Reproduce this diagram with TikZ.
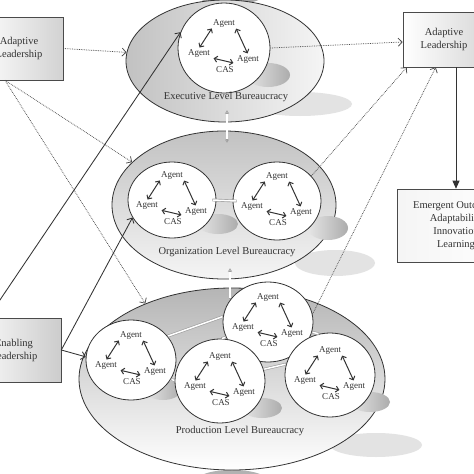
\documentclass[tikz,border=0pt]{standalone}
\usepackage{fontspec}
\setmainfont{Liberation Serif}
\usetikzlibrary{shapes.geometric,arrows.meta}
\definecolor{ink}{HTML}{333333}
\definecolor{lineg}{HTML}{4A4A4A}
\tikzset{
  outerell/.style={ellipse, draw=ink, line width=0.8pt, inner sep=0pt},
  innerell/.style={ellipse, draw=ink, line width=0.8pt, fill=white, inner sep=0pt},
  shadowell/.style={ellipse, inner sep=0pt, draw=none},
  lbox/.style={rectangle, draw=lineg, line width=0.6pt, align=center, text=ink, font=\fontsize{10.5}{13}\selectfont},
  agenttxt/.style={font=\fontsize{9}{10}\selectfont, inner sep=0.5pt, text=ink},
  levellab/.style={font=\fontsize{10.5}{12}\selectfont, text=ink, inner sep=0pt},
  agentarrow/.style={draw=ink, line width=1pt, {Straight Barb[length=3pt,width=6pt]}-{Straight Barb[length=3pt,width=6pt]}, shorten <=1pt, shorten >=1pt},
  dotconn/.style={draw=lineg, line width=0.75pt, densely dotted, -{Straight Barb[length=4pt,width=8pt]}},
  solconn/.style={draw=ink, line width=0.85pt, -{Straight Barb[length=4pt,width=8pt]}},
  pipe/.style={draw=gray!75, line width=2.8pt, postaction={draw=white, line width=1.5pt, shorten <=0.6pt, shorten >=0.6pt}},
  pipetip/.style={draw=gray!75, line width=0.6pt, -{Latex[open,length=3.5pt,width=4.5pt]}},
  cas/.pic={
    \node[agenttxt] (-a1) at (0,-25) {Agent};
    \node[agenttxt] (-a2) at (-25,5) {Agent};
    \node[agenttxt] (-a3) at (24,11) {Agent};
    \node[agenttxt] (-cas) at (1,22) {CAS};
    \draw[agentarrow] (-a2.north) -- (-a1.south west);
    \draw[agentarrow] (-a1.south east) -- (-a3.north);
    \draw[agentarrow, shorten <=3pt, shorten >=3pt] (-a2.south east) -- (-a3.south west);
  }
}
\begin{document}
\begin{tikzpicture}[x=1pt,y=-1pt]
\useasboundingbox (0,0) rectangle (474,474);
\clip (0,0) rectangle (474,474);
\fill[white] (0,0) rectangle (474,474);
% outer shadows
\node[shadowell, fill=gray!22, minimum width=104pt, minimum height=24pt] (exsh) at (300,104) {};
\node[shadowell, fill=gray!22, minimum width=80pt, minimum height=26pt] (orsh) at (335,263) {};
\node[shadowell, fill=gray!22, minimum width=92pt, minimum height=24pt] (prsh) at (376,445) {};
\node[shadowell, fill=gray!70, minimum width=60pt, minimum height=12pt] (topsh) at (230,-2) {};
\node[shadowell, fill=gray!60, minimum width=64pt, minimum height=16pt] (botsh) at (232,478) {};
% outer ellipses
\node[outerell, top color=gray!58, bottom color=white, minimum width=306pt, minimum height=182pt] (prod) at (232,379) {};
\node[outerell, top color=gray!48, bottom color=gray!8, minimum width=224pt, minimum height=148pt] (org) at (224,205) {};
\node[outerell, left color=gray!48, right color=gray!8, minimum width=198pt, minimum height=122pt] (exec) at (225,61) {};
% inner circle shadows
\node[shadowell, left color=gray!20, right color=gray!65, minimum width=44pt, minimum height=24pt] (exish) at (268,75) {};
\node[shadowell, left color=gray!20, right color=gray!65, minimum width=40pt, minimum height=20pt] (orlsh) at (218,224) {};
\node[shadowell, left color=gray!20, right color=gray!65, minimum width=40pt, minimum height=24pt] (orrsh) at (328,228) {};
\node[shadowell, left color=gray!20, right color=gray!65, minimum width=36pt, minimum height=20pt] (p1sh) at (163,390) {};
\node[shadowell, left color=gray!20, right color=gray!65, minimum width=40pt, minimum height=20pt] (p3sh) at (262,408) {};
\node[shadowell, left color=gray!20, right color=gray!65, minimum width=40pt, minimum height=20pt] (p4sh) at (370,402) {};
% inner circles
\node[innerell, minimum width=92pt, minimum height=90pt] (exci) at (224,48) {};
\node[innerell, minimum width=88pt, minimum height=76pt] (orl) at (172,200) {};
\node[innerell, minimum width=88pt, minimum height=78pt] (orr) at (277,201) {};
\node[innerell, minimum width=90pt, minimum height=80pt] (p1) at (131,360) {};
\node[innerell, minimum width=90pt, minimum height=80pt] (p2) at (268,322) {};
\node[innerell, minimum width=90pt, minimum height=84pt] (p3) at (220,381) {};
\node[innerell, minimum width=90pt, minimum height=84pt] (p4) at (330,375) {};
% pipes
\draw[pipe] ([xshift=-4pt]orl.east) -- ([xshift=4pt]orr.west);
\draw[pipe] (p1.33) -- (p2.173);
\draw[pipe] (p2.200) -- (p3.88);
\draw[pipe] (p1.-25) -- (p3.180);
\draw[pipe] (p3.15) -- (p4.166);
\draw[pipe] (p2.-13) -- (p4.105);
\coordinate (exorA) at (227,110);
\coordinate (exorB) at (227,143);
\coordinate (orprA) at (230,268);
\coordinate (orprB) at (orprA |- p2.148);
\draw[pipe] ([yshift=-3pt]exorA) -- ([yshift=3pt]exorB);
\draw[pipetip] ([yshift=-3.5pt]exorA) -- (exorA);
\draw[pipetip] ([yshift=3.5pt]exorB) -- (exorB);
\draw[pipe] ([yshift=-3pt]orprA) -- (orprB);
\draw[pipetip] ([yshift=-3.5pt]orprA) -- (orprA);
% agents
\pic (e) at (224,48) {cas};
\pic (ol) at (172,200) {cas};
\pic (or) at (277,201) {cas};
\pic (q1) at (131,360) {cas};
\pic (q2) at (268,322) {cas};
\pic (q3) at (220,381) {cas};
\pic (q4) at (330,375) {cas};
% level labels
\node[levellab] (exlab) at (226,97) {Executive Level Bureaucracy};
\node[levellab] (orlab) at (227,252) {Organization Level Bureaucracy};
\node[levellab] (prlab) at (240,431) {Production Level Bureaucracy};
% boxes
\node[lbox, left color=white, right color=gray!35, minimum width=88pt, minimum height=63pt] (lad) at (19,48.5) {Adaptive\\Leadership};
\node[lbox, left color=white, right color=gray!30, minimum width=82pt, minimum height=55pt] (rad) at (444,39.5) {Adaptive\\Leadership};
\node[lbox, left color=white, right color=gray!40, minimum width=94pt, minimum height=64pt] (enb) at (14,350) {Enabling\\Leadership};
\node[lbox, left color=gray!8, right color=white, minimum width=118pt, minimum height=73pt] (emg) at (456,225.5) {Emergent Outcomes\\Adaptability\\Innovation\\Learning};
% connectors
\draw[dotconn] (lad.east) -- (exec.175);
\draw[dotconn] ([xshift=-14pt]lad.south) -- (org.155);
\draw[dotconn] ([xshift=-14pt]lad.south) -- (prod.139);
\draw[solconn] ([xshift=-26pt]enb.north) -- (exci.160);
\draw[solconn] (enb.east) -- (orl.204);
\draw[solconn] (enb.east) -- (p1.176);
\draw[dotconn] (exci.east) -- ([yshift=-2.5pt]rad.west);
\draw[dotconn] (orr.36) -- ([xshift=4pt]rad.south west);
\draw[dotconn] (p2.10) -- ([xshift=33pt]rad.south west);
\draw[solconn, -{Triangle[length=8pt,width=7pt]}] (rad.south -| emg.north) -- (emg.north);
\end{tikzpicture}
\end{document}
